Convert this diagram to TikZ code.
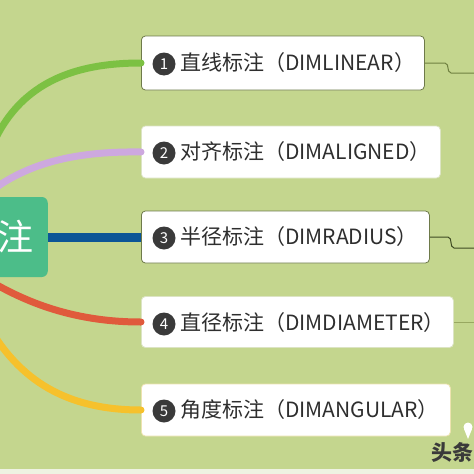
\documentclass[tikz,border=0pt]{standalone}
\usepackage{fontspec}
\setmainfont{Noto Sans CJK SC}
\definecolor{bg}{HTML}{C4D68E}
\definecolor{cgreen}{HTML}{4CBD89}
\definecolor{brgreen}{HTML}{7CC143}
\definecolor{brpurple}{HTML}{CDA8DF}
\definecolor{brblue}{HTML}{0B5597}
\definecolor{brred}{HTML}{E05A3C}
\definecolor{bryellow}{HTML}{F6C12C}
\definecolor{numgray}{HTML}{3A3A3A}
\definecolor{txt}{HTML}{2E2E2E}
\definecolor{darkedge}{HTML}{6E7A4A}
\definecolor{lightedge}{HTML}{DCE4C4}
\definecolor{yedge}{HTML}{EDE3B0}
\definecolor{conn}{HTML}{6F8040}
\definecolor{conndark}{HTML}{3E4A22}
\definecolor{connlight}{HTML}{98A860}
\definecolor{strip}{HTML}{EEF2E2}
\begin{document}
\begin{tikzpicture}[x=1pt,y=-1pt,
  box/.style={draw=#1, fill=white, rounded corners=4pt, line width=0.8pt,
    minimum height=52pt, anchor=west, inner sep=0pt},
  box/.default=lightedge,
  num/.style={circle, fill=numgray, text=white, minimum size=23pt, inner sep=0pt,
    font=\fontsize{15}{15}\selectfont},
  lbl/.style={anchor=west, inner sep=0pt, text=txt, font=\fontsize{21}{22}\selectfont},
  branch/.style={line width=7pt, line cap=round},
  tline/.style={line width=1pt, rounded corners=2pt}]
\useasboundingbox (0,0) rectangle (474,474);
\clip (0,0) rectangle (474,474);
\fill[bg] (0,0) rectangle (474,474);
\fill[strip] (0,469) rectangle (474,474);

% branch start points (hidden at the left edge)
\coordinate (s1) at (-15,165);
\coordinate (s2) at (-20,200);
\coordinate (s4) at (-20,275);
\coordinate (s5) at (-15,320);

% boxes
\node[box=darkedge, minimum width=283pt, minimum height=54pt] (b1) at (141,63) {};
\node[box, minimum width=299pt] (b2) at (141,152) {};
\node[box=darkedge, minimum width=288pt] (b3) at (141,237) {};
\node[box, minimum width=312pt, minimum height=51pt] (b4) at (141,322) {};
\node[box=yedge, minimum width=309pt] (b5) at (141,410) {};

% branches
\draw[branch, brgreen] (s1) .. controls (10,85) and (70,63) .. (b1.west);
\draw[branch, brpurple] (s2) .. controls (20,165) and (70,151) .. (b2.west);
\draw[branch, brred] (s4) .. controls (20,300) and (70,322) .. (b4.west);
\draw[branch, bryellow] (s5) .. controls (15,375) and (60,410) .. (b5.west);

% central node
\node[fill=cgreen, rounded corners=6pt, minimum height=80pt, inner xsep=14pt,
  text=white, font=\fontsize{36}{36}\selectfont, anchor=east] (c) at (48,237) {尺寸标注};
\draw[line width=9pt, brblue] (c.east) -- (b3.west);

% numbers and labels
\node[num] (n1) at (164,64) {1};
\node[lbl] (t1) at (180,63) {直线标注（DIMLINEAR）};
\node[num] (n2) at (164,153) {2};
\node[lbl] (t2) at (180,152) {对齐标注（DIMALIGNED）};
\node[num] (n3) at (164,238) {3};
\node[lbl] (t3) at (180,237) {半径标注（DIMRADIUS）};
\node[num] (n4) at (164,324) {4};
\node[lbl] (t4) at (180,323) {直径标注（DIMDIAMETER）};
\node[num] (n5) at (164,411) {5};
\node[lbl] (t5) at (180,410) {角度标注（DIMANGULAR）};

% right-side connectors
\coordinate (r1) at (474,73);
\coordinate (r3) at (474,248);
\coordinate (r4) at (474,322);
\draw[tline, conn] (b1.east) -- (447,63) -- (449,73) -- (r1);
\draw[tline, conndark] (b3.east) -- (450,237) -- (452,248) -- (r3);
\draw[tline, connlight] (b4.east) -- (r4);

% watermark
\fill[white] (468,427) circle (4.5);
\fill[white] (464,429) -- (468,439) -- (472,429) -- cycle;
\node[anchor=west, inner sep=0pt, text=numgray, font=\fontsize{21}{21}\selectfont\bfseries] (wm) at (431,452) {头条};
\end{tikzpicture}
\end{document}
